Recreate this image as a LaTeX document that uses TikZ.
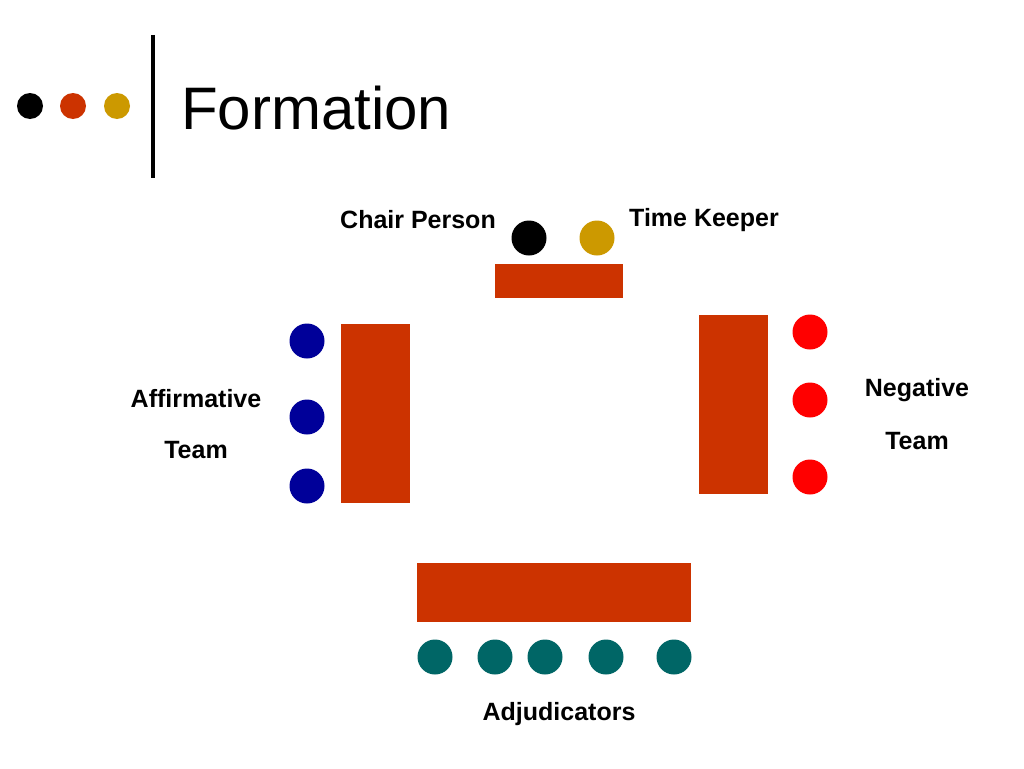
\documentclass[tikz,border=0pt]{standalone}
\usepackage{fontspec}
\setmainfont{Liberation Sans}
\definecolor{tbl}{HTML}{CC3300}
\definecolor{gold}{HTML}{CC9900}
\definecolor{navy}{HTML}{000099}
\definecolor{teal2}{HTML}{006666}
\begin{document}
\begin{tikzpicture}[x=1pt,y=-1pt,
  dot/.style={circle,inner sep=0pt,minimum size=#1},
  p/.style={dot=35pt},
  tab/.style={fill=tbl,draw=none},
  lab/.style={font=\bfseries\fontsize{25}{30}\selectfont,inner sep=0pt}]
\useasboundingbox[fill=white] (0,0) rectangle (1024,768);
\node[dot=26pt,fill=black] (d1) at (30,106) {};
\node[dot=26pt,fill=tbl] (d2) at (73,106) {};
\node[dot=26pt,fill=gold] (d3) at (117,106) {};
\draw[line width=4pt] (153,35) -- (153,178);
\node[anchor=west,inner sep=0pt,font=\fontsize{60}{70}\selectfont] (title) at (181,108) {Formation};
\node[lab] (chair) at (418,220) {Chair Person};
\node[lab] (tk) at (704,220) {Time Keeper};
\node[p,fill=black] (c) at (529,238) {};
\node[p,fill=gold] (t) at (597,238) {};
\fill[tab] (495,264) rectangle (623,298);
\fill[tab] (341,324) rectangle (410,503);
\fill[tab] (699,315) rectangle (768,494);
\fill[tab] (417,563) rectangle (691,622);
\foreach \y [count=\i] in {341,417,486} \node[p,fill=navy] (a\i) at (307,\y) {};
\foreach \y [count=\i] in {332,400,477} \node[p,fill=red] (n\i) at (810,\y) {};
\foreach \x [count=\i] in {435,495,545,606,674} \node[p,fill=teal2] (j\i) at (\x,657) {};
\node[lab] (aff) at (196,399) {Affirmative};
\node[lab] (afft) at (196,450) {Team};
\node[lab] (neg) at (917,390) {Negative};
\node[lab] (negt) at (917,441) {Team};
\node[lab] (adj) at (559,714) {Adjudicators};
\end{tikzpicture}
\end{document}
